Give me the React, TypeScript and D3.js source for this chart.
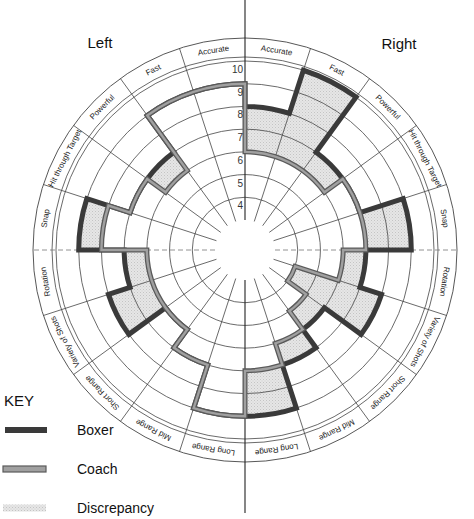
import React, { useEffect, useRef } from 'react';
import * as d3 from 'd3';

// Segment names, going clockwise on the right side and anticlockwise on the left side
const categories = [
  'Accurate',
  'Fast',
  'Powerful',
  'Hit through Target',
  'Snap',
  'Rotation',
  'Variety of Shots',
  'Short Range',
  'Mid Range',
  'Long Range',
];

const boxerRight = [8, 10, 7, 7, 9, 7, 8, 6, 7, 9];
const coachRight = [6, 6, 6, 7, 7, 6, 4, 5, 6, 7];
const boxerLeft = [9, 9, 7, 7, 9, 7, 8, 6, 7, 9];
const coachLeft = [9, 9, 6, 7, 8, 6, 6, 6, 7, 9];

const scaleTicks = [4, 5, 6, 7, 8, 9, 10];

const keyItems = ['Boxer', 'Coach', 'Discrepancy'];

const FONT = '"Liberation Sans", Arial, sans-serif';

export default function App() {
  const svgRef = useRef<SVGSVGElement>(null);

  useEffect(() => {
    if (!svgRef.current) return;
    const svg = d3.select(svgRef.current);
    svg.selectAll('*').remove();

    const width = 474;
    const height = 519;
    const cx = 245;
    const cy = 250;
    const outerR = 212;
    const labelR = 202;

    const r = d3.scaleLinear().domain([3, 10]).range([30, 189]);
    const seg = (Math.PI * 2) / 20;

    // full ring of 20 segments, clockwise from the top
    const ring = [
      ...categories.map((c, i) => ({ name: c, boxer: boxerRight[i], coach: coachRight[i], theta: (i + 0.5) * 18 })),
      ...categories
        .map((c, i) => ({ name: c, boxer: boxerLeft[i], coach: coachLeft[i], theta: -(i + 0.5) * 18 }))
        .reverse(),
    ];

    svg.attr('width', width).attr('height', height);

    const defs = svg.append('defs');
    const pat = defs
      .append('pattern')
      .attr('id', 'stipple')
      .attr('width', 3)
      .attr('height', 3)
      .attr('patternUnits', 'userSpaceOnUse');
    pat.append('rect').attr('width', 3).attr('height', 3).attr('fill', '#e6e6e6');
    pat.append('rect').attr('x', 0).attr('y', 0).attr('width', 1).attr('height', 1).attr('fill', '#c4c4c4');
    pat.append('rect').attr('x', 1.5).attr('y', 1.5).attr('width', 1).attr('height', 1).attr('fill', '#d0d0d0');

    svg.append('rect').attr('width', width).attr('height', height).attr('fill', '#fff');

    const g = svg.append('g').attr('transform', `translate(${cx},${cy})`);

    // Discrepancy shading
    const arc = d3.arc<any>();
    ring.forEach((d, i) => {
      if (d.boxer === d.coach) return;
      g.append('path')
        .attr(
          'd',
          arc({
            innerRadius: r(Math.min(d.boxer, d.coach)),
            outerRadius: r(Math.max(d.boxer, d.coach)),
            startAngle: i * seg,
            endAngle: (i + 1) * seg,
          })
        )
        .attr('fill', 'url(#stipple)');
    });

    // Rings
    scaleTicks.forEach(v => {
      g.append('circle')
        .attr('r', r(v))
        .attr('fill', 'none')
        .attr('stroke', '#444')
        .attr('stroke-width', 0.8);
    });
    g.append('circle').attr('r', r(10) + 4).attr('fill', 'none').attr('stroke', '#444').attr('stroke-width', 0.8);
    g.append('circle').attr('r', outerR).attr('fill', 'none').attr('stroke', '#444').attr('stroke-width', 0.9);

    // Spokes
    d3.range(20).forEach(i => {
      if (i === 0 || i === 10) return;
      const a = i * seg;
      const sx = Math.sin(a);
      const sy = -Math.cos(a);
      g.append('line')
        .attr('x1', sx * r(3))
        .attr('y1', sy * r(3))
        .attr('x2', sx * outerR)
        .attr('y2', sy * outerR)
        .attr('stroke', i === 5 || i === 15 ? '#777' : '#444')
        .attr('stroke-width', 0.8)
        .attr('stroke-dasharray', i === 5 || i === 15 ? '5,3' : null);
    });

    // Centre divider
    g.append('line')
      .attr('x1', 0).attr('x2', 0)
      .attr('y1', -cy).attr('y2', -r(3))
      .attr('stroke', '#222').attr('stroke-width', 1.1);
    g.append('line')
      .attr('x1', 0).attr('x2', 0)
      .attr('y1', r(3)).attr('y2', 263)
      .attr('stroke', '#222').attr('stroke-width', 1.1);

    // Profile outlines
    const profile = (key: 'boxer' | 'coach') => {
      const p = d3.path();
      ring.forEach((d, i) => {
        const a0 = i * seg - Math.PI / 2;
        const a1 = (i + 1) * seg - Math.PI / 2;
        const rr = r(d[key]);
        if (i === 0) p.moveTo(Math.cos(a0) * rr, Math.sin(a0) * rr);
        else p.lineTo(Math.cos(a0) * rr, Math.sin(a0) * rr);
        p.arc(0, 0, rr, a0, a1, false);
      });
      p.closePath();
      return p.toString();
    };

    g.append('path')
      .attr('d', profile('boxer'))
      .attr('fill', 'none')
      .attr('stroke', '#3a3a3a')
      .attr('stroke-width', 5)
      .attr('stroke-linejoin', 'miter');

    g.append('path')
      .attr('d', profile('coach'))
      .attr('fill', 'none')
      .attr('stroke', '#5a5a5a')
      .attr('stroke-width', 5)
      .attr('stroke-linejoin', 'miter');
    g.append('path')
      .attr('d', profile('coach'))
      .attr('fill', 'none')
      .attr('stroke', '#a0a0a0')
      .attr('stroke-width', 2.4)
      .attr('stroke-linejoin', 'miter');

    // Segment labels
    ring.forEach(d => {
      g.append('text')
        .attr('transform', `rotate(${d.theta})`)
        .attr('x', 0)
        .attr('y', -labelR)
        .attr('text-anchor', 'middle')
        .attr('dominant-baseline', 'central')
        .style('font-family', FONT)
        .style('font-size', '8px')
        .style('fill', '#222')
        .text(d.name);
    });

    // Scale numbers
    scaleTicks.forEach(v => {
      g.append('text')
        .attr('x', -2)
        .attr('y', -r(v) + 12)
        .attr('text-anchor', 'end')
        .style('font-family', FONT)
        .style('font-size', '10px')
        .style('fill', '#333')
        .text(v);
    });

    // Titles
    svg.append('text')
      .attr('x', 100).attr('y', 48)
      .attr('text-anchor', 'middle')
      .style('font-family', FONT).style('font-size', '15px').style('fill', '#111')
      .text('Left');
    svg.append('text')
      .attr('x', 399).attr('y', 49)
      .attr('text-anchor', 'middle')
      .style('font-family', FONT).style('font-size', '15px').style('fill', '#111')
      .text('Right');

    // Key
    svg.append('text')
      .attr('x', 4).attr('y', 406)
      .style('font-family', FONT).style('font-size', '15px').style('fill', '#111')
      .text('KEY');

    const keyY = [430, 469, 508];
    keyItems.forEach((label, i) => {
      const y = keyY[i];
      if (i === 0) {
        svg.append('rect').attr('x', 5).attr('y', y - 3).attr('width', 42).attr('height', 6).attr('fill', '#3a3a3a');
      } else if (i === 1) {
        svg.append('rect').attr('x', 3).attr('y', y - 3).attr('width', 43).attr('height', 6)
          .attr('fill', '#a0a0a0').attr('stroke', '#5a5a5a').attr('stroke-width', 1.2);
      } else {
        svg.append('rect').attr('x', 3).attr('y', y - 3.5).attr('width', 43).attr('height', 7).attr('fill', 'url(#stipple)');
      }
      svg.append('text')
        .attr('x', 77).attr('y', y + 5)
        .style('font-family', FONT).style('font-size', '14px').style('fill', '#111')
        .text(label);
    });
  }, []);

  return (
    <div style={{ position: 'absolute', left: 0, top: 0 }}>
      <svg ref={svgRef} width={474} height={519} style={{ display: 'block' }} />
    </div>
  );
}
